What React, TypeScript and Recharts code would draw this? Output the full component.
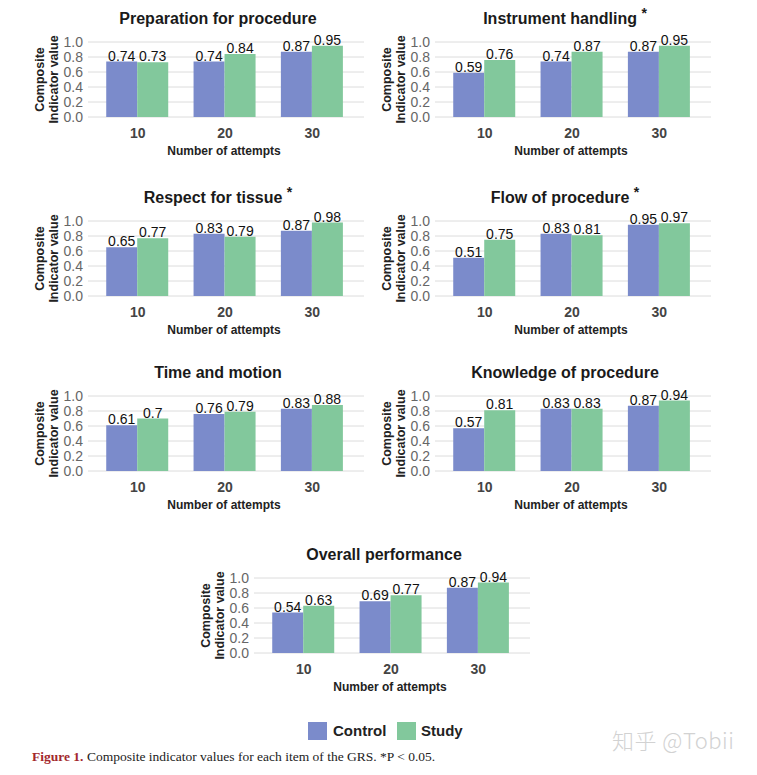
import { BarChart, Bar, XAxis, YAxis, CartesianGrid, LabelList } from "recharts";

// number of attempts on the x axis
const attempts = ["10", "20", "30"];

// composite indicator values per GRS item
const prepControl = [0.74, 0.74, 0.87];
const prepStudy = [0.73, 0.84, 0.95];
const instrControl = [0.59, 0.74, 0.87];
const instrStudy = [0.76, 0.87, 0.95];
const tissueControl = [0.65, 0.83, 0.87];
const tissueStudy = [0.77, 0.79, 0.98];
const flowControl = [0.51, 0.83, 0.95];
const flowStudy = [0.75, 0.81, 0.97];
const timeControl = [0.61, 0.76, 0.83];
const timeStudy = [0.7, 0.79, 0.88];
const knowControl = [0.57, 0.83, 0.87];
const knowStudy = [0.81, 0.83, 0.94];
const overallControl = [0.54, 0.69, 0.87];
const overallStudy = [0.63, 0.77, 0.94];

const yTicks = [0, 0.2, 0.4, 0.6, 0.8, 1.0];

const CONTROL = "#7b8bcb";
const STUDY = "#82c89c";
const FONT = '"Liberation Sans", Arial, sans-serif';

const W = 372;
const H = 165;

function YTitle(props: any) {
  const { viewBox } = props;
  const cy = viewBox.y + viewBox.height / 2;
  const x = viewBox.x;
  return (
    <g fontFamily={FONT} fontWeight="bold" fontSize={12.5} fill="#222" textAnchor="middle">
      <text transform={`translate(${x + 44},${cy}) rotate(-90)`}>Composite</text>
      <text transform={`translate(${x + 58},${cy}) rotate(-90)`}>Indicator value</text>
    </g>
  );
}

function XTitle(props: any) {
  const { viewBox } = props;
  return (
    <text
      x={viewBox.x + viewBox.width / 2 - 2}
      y={viewBox.y + 38}
      textAnchor="middle"
      fontFamily={FONT}
      fontWeight="bold"
      fontSize={12}
      fill="#222"
    >
      Number of attempts
    </text>
  );
}

interface PanelProps {
  title: string;
  star?: boolean;
  control: number[];
  study: number[];
  left: number;
  top: number;
}

function Panel({ title, star, control, study, left, top }: PanelProps) {
  const data = attempts.map((a, i) => ({ attempt: a, control: control[i], study: study[i] }));
  return (
    <div style={{ position: "absolute", left, top, width: W, height: H }}>
      <div
        style={{
          position: "absolute",
          left: 0,
          top: 9,
          width: 436,
          textAlign: "center",
          fontWeight: "bold",
          fontSize: 16,
          lineHeight: "20px",
          color: "#1a1a1a",
          whiteSpace: "nowrap",
        }}
      >
        {title}
        {star && (
          <>
            {" "}
            <sup style={{ fontSize: 14, lineHeight: 0, verticalAlign: 6 }}>*</sup>
          </>
        )}
      </div>
      <BarChart
        width={W}
        height={H}
        data={data}
        margin={{ top: 42, right: 8, bottom: 0, left: 0 }}
        barCategoryGap="14%"
        barGap={0}
      >
        <CartesianGrid vertical={false} stroke="#dcdcdc" />
        <XAxis
          dataKey="attempt"
          axisLine={false}
          tickLine={false}
          tickSize={6}
          tickMargin={5}
          height={H - 117}
          padding={{ left: 6, right: 8 }}
          tick={{ fontSize: 14, fontWeight: "bold", fill: "#444", fontFamily: FONT }}
          label={<XTitle />}
        />
        <YAxis
          domain={[0, 1]}
          ticks={yTicks}
          interval={0}
          width={88}
          axisLine={false}
          tickLine={false}
          tickSize={3}
          tickMargin={2}
          tickFormatter={(v: number) => v.toFixed(1)}
          tick={{ fontSize: 14, fill: "#666", fontFamily: FONT }}
          label={<YTitle />}
        />
        <Bar dataKey="control" fill={CONTROL} isAnimationActive={false}>
          <LabelList dataKey="control" position="top" offset={1} fontSize={14} fill="#111" fontFamily={FONT} />
        </Bar>
        <Bar dataKey="study" fill={STUDY} isAnimationActive={false}>
          <LabelList dataKey="study" position="top" offset={1} fontSize={14} fill="#111" fontFamily={FONT} />
        </Bar>
      </BarChart>
    </div>
  );
}

export default function App() {
  return (
    <div
      style={{
        position: "absolute",
        left: 0,
        top: 0,
        width: 757,
        height: 775,
        background: "#fff",
        fontFamily: FONT,
        overflow: "hidden",
      }}
    >
      <Panel title="Preparation for procedure" control={prepControl} study={prepStudy} left={0} top={0} />
      <Panel title="Instrument handling" star control={instrControl} study={instrStudy} left={347} top={0} />
      <Panel title="Respect for tissue" star control={tissueControl} study={tissueStudy} left={0} top={179} />
      <Panel title="Flow of procedure" star control={flowControl} study={flowStudy} left={347} top={179} />
      <Panel title="Time and motion" control={timeControl} study={timeStudy} left={0} top={354} />
      <Panel title="Knowledge of procedure" control={knowControl} study={knowStudy} left={347} top={354} />
      <Panel title="Overall performance" control={overallControl} study={overallStudy} left={166} top={536} />

      {/* shared legend */}
      <div style={{ position: "absolute", left: 308, top: 722, width: 19, height: 18, background: CONTROL }} />
      <div style={{ position: "absolute", left: 333, top: 722, fontSize: 15, fontWeight: "bold", lineHeight: "18px", color: "#222" }}>
        Control
      </div>
      <div style={{ position: "absolute", left: 397, top: 722, width: 19, height: 18, background: STUDY }} />
      <div style={{ position: "absolute", left: 421, top: 722, fontSize: 15, fontWeight: "bold", lineHeight: "18px", color: "#222" }}>
        Study
      </div>

      <div
        style={{
          position: "absolute",
          left: 612,
          top: 726,
          fontSize: 22,
          lineHeight: "26px",
          letterSpacing: 0.5,
          color: "#d2d2d2",
          fontFamily: '"Noto Sans CJK SC", "Noto Sans", sans-serif',
          fontWeight: 300,
          whiteSpace: "nowrap",
        }}
      >
        知乎 @Tobii
      </div>

      <div
        style={{
          position: "absolute",
          left: 32,
          top: 749,
          fontSize: 13.5,
          lineHeight: "16px",
          color: "#222",
          fontFamily: '"Liberation Serif", "DejaVu Serif", serif',
          whiteSpace: "nowrap",
        }}
      >
        <span style={{ color: "#a3282d", fontWeight: "bold" }}>Figure 1.</span> Composite indicator values for each item of the GRS. *P &lt; 0.05.
      </div>
    </div>
  );
}
